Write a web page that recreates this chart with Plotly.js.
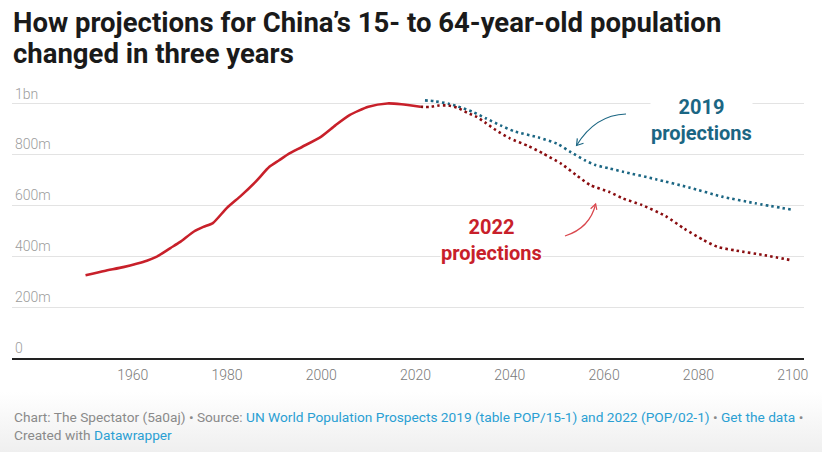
<!DOCTYPE html>
<html>
<head>
<meta charset="utf-8">
<script src="https://cdn.plot.ly/plotly-3.0.1.min.js"></script>
<style>
  html, body { margin: 0; padding: 0; }
  body {
    width: 822px; height: 452px; overflow: hidden;
    background: linear-gradient(to bottom, #ffffff 0px, #ffffff 392px, #efefef 452px);
  }
  #chart { width: 822px; height: 452px; }
</style>
</head>
<body>
<div id="chart"></div>
<script>
// China, population aged 15-64 (millions)
const histYears = [1950, 1954, 1958, 1961, 1963, 1965, 1968, 1970, 1973, 1975, 1977, 1980, 1983, 1986, 1989, 1991, 1993, 1996, 2000, 2003, 2006, 2010, 2014, 2017, 2021];
const histPop   = [325, 342, 357, 371, 382, 397, 432, 455, 497, 515, 530, 590, 638, 691, 751, 776, 801, 830, 870, 914, 954, 987, 1000, 997, 987];

// UN WPP 2022 projections
const proj2022Years = [2021, 2023, 2025, 2027, 2029, 2031, 2033, 2035, 2037, 2040, 2044, 2047, 2051, 2054, 2057, 2061, 2064, 2068, 2073, 2077, 2081, 2084, 2088, 2094, 2100];
const proj2022Pop   = [987, 986, 992, 992, 982, 963, 947, 922, 896, 863, 832, 804, 762, 720, 680, 653, 627, 601, 558, 508, 464, 437, 422, 404, 383];

// UN WPP 2019 projections
const proj2019Years = [2022, 2024, 2027, 2029, 2032, 2035, 2038, 2041, 2046, 2050, 2053, 2056, 2058, 2061, 2064, 2071, 2078, 2085, 2092, 2100];
const proj2019Pop   = [1012, 1009, 999, 988, 968, 941, 914, 890, 867, 842, 808, 776, 759, 745, 732, 702, 670, 634, 608, 582];

// Axis ticks
const xTickVals = [1960, 1980, 2000, 2020, 2040, 2060, 2080, 2100];
const xTickText = ['1960', '1980', '2000', '2020', '2040', '2060', '2080', '2100'];
const yTickVals = [0, 200, 400, 600, 800, 1000];
const yTickText = ['0', '200m', '400m', '600m', '800m', '1bn'];

const titleLines = ['How projections for China\u2019s 15- to 64-year-old population', 'changed in three years'];

const RED = '#c8202a';
const DARK_RED = '#8a0d10';
const BLUE = '#1b6683';
const LINK = '#2a9fd3';

const W = 822, H = 452;
const M = { l: 12, r: 18, t: 78, b: 94 };
const plotW = W - M.l - M.r, plotH = H - M.t - M.b;

// pixel position -> paper fraction, used for the hand-drawn arrows and text
const px = x => (x - M.l) / plotW;
const py = y => (H - M.b - y) / plotH;
function path(cmds) {
  return cmds.map(c => c[0] + ' ' + c.slice(1).map((v, i) => (i % 2 === 0 ? px(v) : py(v)).toFixed(4)).join(' ')).join(' ');
}

const dotted = '2.5px,3.2px';

const traces = [
  {
    x: histYears, y: histPop, type: 'scatter', mode: 'lines',
    line: { color: RED, width: 2.6, shape: 'spline', smoothing: 0.6 },
    hoverinfo: 'skip'
  },
  {
    x: proj2019Years, y: proj2019Pop, type: 'scatter', mode: 'lines',
    line: { color: BLUE, width: 2.6, dash: dotted, shape: 'spline', smoothing: 0.6 },
    hoverinfo: 'skip'
  },
  {
    x: proj2022Years, y: proj2022Pop, type: 'scatter', mode: 'lines',
    line: { color: DARK_RED, width: 2.6, dash: dotted, shape: 'spline', smoothing: 0.6 },
    hoverinfo: 'skip'
  }
];

const footer =
  'Chart: The Spectator (5a0aj) \u2022 Source: ' +
  '<span style="color:' + LINK + '">UN World Population Prospects 2019 (table POP/15-1) and 2022 (POP/02-1)</span>' +
  ' \u2022 <span style="color:' + LINK + '">Get the data</span> \u2022' +
  '<br>Created with <span style="color:' + LINK + '">Datawrapper</span>';

const titleFont = { family: 'Roboto, sans-serif', size: 27.5, weight: 700, color: '#1a1a1a' };

const layout = {
  width: W, height: H,
  margin: M,
  paper_bgcolor: 'rgba(0,0,0,0)',
  plot_bgcolor: 'rgba(0,0,0,0)',
  showlegend: false,
  font: { family: 'Roboto, sans-serif' },
  xaxis: {
    range: [1934.4, 2102.4],
    tickvals: xTickVals, ticktext: xTickText,
    showgrid: false, zeroline: false,
    showline: true, linecolor: '#222222', linewidth: 2,
    ticks: '', ticklen: 0, ticklabelstandoff: 3,
    tickfont: { family: 'Roboto, sans-serif', size: 14, weight: 300, color: '#7a7a7a' },
    fixedrange: true
  },
  yaxis: {
    range: [0, 1100],
    tickvals: yTickVals, ticktext: yTickText,
    ticklabelposition: 'inside top',
    showgrid: true, gridcolor: '#e3e3e3', gridwidth: 1,
    zeroline: false, showline: false, ticks: '',
    tickfont: { family: 'Roboto, sans-serif', size: 14, weight: 300, color: '#9c9c9c' },
    fixedrange: true
  },
  shapes: [
    {
      type: 'path', xref: 'paper', yref: 'paper',
      path: path([['M', 626, 114], ['Q', 595, 115, 576.5, 145.5]]),
      line: { color: BLUE, width: 1.2 }
    },
    {
      type: 'path', xref: 'paper', yref: 'paper',
      path: path([['M', 577.3, 138.3], ['L', 576.5, 145.5], ['L', 583.5, 143.3]]),
      line: { color: BLUE, width: 1.2 }
    },
    {
      type: 'path', xref: 'paper', yref: 'paper',
      path: path([['M', 565, 236], ['Q', 590, 228, 595.6, 204]]),
      line: { color: '#d9474d', width: 1.2 }
    },
    {
      type: 'path', xref: 'paper', yref: 'paper',
      path: path([['M', 590.6, 208.7], ['L', 595.6, 204], ['L', 596.8, 209.8]]),
      line: { color: '#d9474d', width: 1.2 }
    }
  ],
  annotations: [
    {
      text: titleLines[0], xref: 'paper', yref: 'paper',
      x: px(11), y: py(22), xanchor: 'left', yanchor: 'middle',
      showarrow: false, font: titleFont
    },
    {
      text: titleLines[1], xref: 'paper', yref: 'paper',
      x: px(11), y: py(53), xanchor: 'left', yanchor: 'middle',
      showarrow: false, font: titleFont
    },
    {
      text: '<b>2019</b><br><b>projections</b>',
      xref: 'paper', yref: 'paper',
      x: px(701.7), y: py(119.5),
      xanchor: 'center', yanchor: 'middle', showarrow: false,
      align: 'center', bgcolor: '#ffffff', borderpad: 0,
      font: { family: 'Roboto, sans-serif', size: 20, color: BLUE }
    },
    {
      text: '<b>2022</b><br><b>projections</b>',
      xref: 'paper', yref: 'paper',
      x: px(491.7), y: py(240),
      xanchor: 'center', yanchor: 'middle', showarrow: false,
      align: 'center', bgcolor: '#ffffff', borderpad: 0,
      font: { family: 'Roboto, sans-serif', size: 20, color: RED }
    },
    {
      text: footer,
      xref: 'paper', yref: 'paper',
      x: 0, y: py(407),
      xanchor: 'left', yanchor: 'top', showarrow: false, align: 'left',
      font: { family: 'Roboto, sans-serif', size: 13.7, color: '#8a8a8a' }
    }
  ]
};

Plotly.newPlot('chart', traces, layout, { displayModeBar: false, staticPlot: true });
</script>
</body>
</html>
